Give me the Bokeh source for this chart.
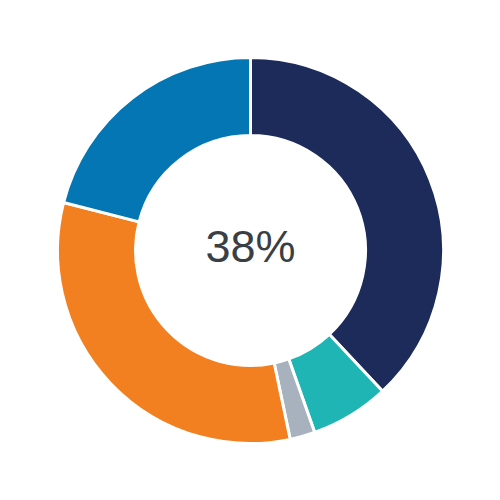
import numpy as np
from bokeh.plotting import figure
from bokeh.models import ColumnDataSource, Range1d
from bokeh.embed import file_html
from bokeh.resources import INLINE
from bokeh.core.properties import value

categories = ["A", "B", "C", "D", "E"]
shares = [38.0, 6.6, 2.1, 32.3, 21.0]
colors = ["#1c2b5a", "#1eb5b4", "#a8b2bf", "#f27f20", "#0476b4"]
center_label = "38%"

total = sum(shares)
frac = np.array(shares) / total
cum = np.concatenate([[0], np.cumsum(frac)])
start = np.pi / 2 - cum[:-1] * 2 * np.pi
end = np.pi / 2 - cum[1:] * 2 * np.pi

src = ColumnDataSource(dict(cat=categories, start=start, end=end, color=colors))

p = figure(width=484, height=484, output_backend="svg", toolbar_location=None,
           x_range=Range1d(-250, 234), y_range=Range1d(-234, 250),
           min_border=0)
p.axis.visible = False
p.grid.visible = False
p.outline_line_color = None
p.background_fill_color = "white"

p.annular_wedge(x=0, y=0, inner_radius=115, outer_radius=193,
                start_angle="start", end_angle="end", direction="clock",
                fill_color="color", line_color="white", line_width=3, source=src)

p.text(x=[0], y=[4], text=[center_label], text_align="center", text_baseline="middle",
       text_font=value("Liberation Sans"), text_font_size="45px", text_color="#3a3f45")

open("out.html", "w").write(file_html(p, INLINE))
